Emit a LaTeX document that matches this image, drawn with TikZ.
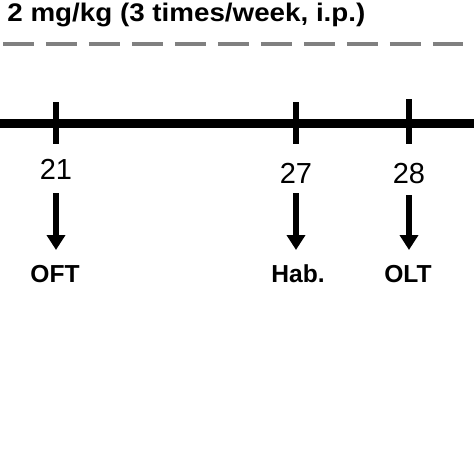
\documentclass[tikz,border=0pt]{standalone}
\usepackage{fontspec}
\setmainfont{Liberation Sans}
\usetikzlibrary{arrows.meta}

\begin{document}
\begin{tikzpicture}[x=0.02cm, y=-0.02cm,
		axis/.style={line width=4.6pt},
		daytick/.style={line width=3.1pt},
		arr/.style={line width=3.4pt, -{Triangle[length=0.3cm, width=0.36cm]}},
		daylabel/.style={anchor=base, inner sep=0pt, font=\fontsize{16.5}{18}\selectfont},
		testlabel/.style={anchor=base, inner sep=0pt, font=\fontsize{14}{16}\selectfont\bfseries}]
			%%%%% START %%%%%
			\useasboundingbox (0, 0) rectangle (474, 474);
			
			\node[anchor=base west, inner sep=0pt, xscale=1.09, font=\fontsize{14.5}{16}\selectfont\bfseries] (dose) at (7, 21) {2 mg/kg (3 times/week, i.p.)};
			\draw[line width=2pt, color=black!50, dash pattern=on 0.62cm off 0.24cm] (3, 44) -- (463, 44);
			
			\draw[axis] (0, 123.5) -- (474, 123.5);
			
			\draw[daytick] (56, 102) -- (56, 144);
			\draw[daytick] (296, 102) -- (296, 144);
			\draw[daytick] (409, 99) -- (409, 144);
			
			\node[daylabel] (d21) at (56, 179) {21};
			\node[daylabel] (d27) at (296, 183) {27};
			\node[daylabel] (d28) at (409, 183) {28};
			
			\coordinate (a21) at (56, 193);
			\coordinate (b21) at (56, 250);
			\coordinate (a27) at (296, 193);
			\coordinate (b27) at (296, 250);
			\coordinate (a28) at (409, 195);
			\coordinate (b28) at (409, 250);
			\draw[arr] (a21) -- (b21);
			\draw[arr] (a27) -- (b27);
			\draw[arr] (a28) -- (b28);
			
			\node[testlabel] (oft) at (55, 282) {OFT};
			\node[testlabel] (hab) at (298, 282) {Hab.};
			\node[testlabel] (olt) at (408, 282) {OLT};
			
			%%%%% END %%%%%
\end{tikzpicture}
\end{document}
